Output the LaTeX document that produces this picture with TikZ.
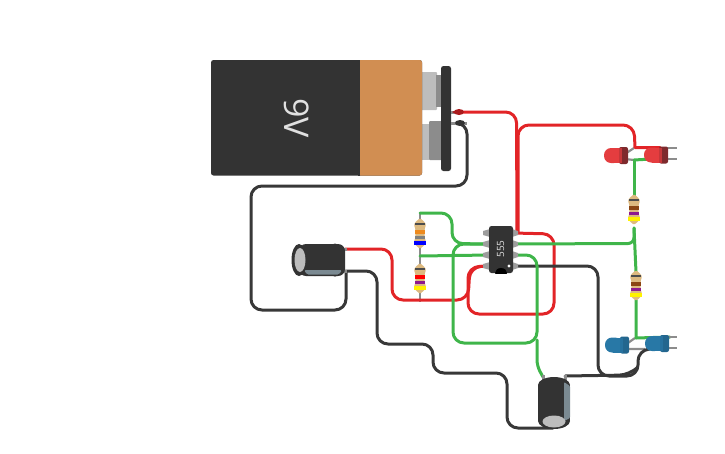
\documentclass[tikz,border=0pt]{standalone}
\usepackage{fontspec}
\setmainfont{Open Sans}
\definecolor{wred}{HTML}{E22427}
\definecolor{wgreen}{HTML}{3FB54A}
\definecolor{wblack}{HTML}{383838}
\definecolor{dark}{HTML}{333333}
\definecolor{orangeb}{HTML}{D18E52}
\definecolor{lgray}{HTML}{BDBDBD}
\definecolor{mgray}{HTML}{8C8C8C}
\definecolor{slate}{HTML}{7B8A92}
\definecolor{tan}{HTML}{DDB97F}
\definecolor{redled}{HTML}{E43D3F}
\definecolor{redrim}{HTML}{7E2A2D}
\definecolor{blueled}{HTML}{2878A6}
\definecolor{bluerim}{HTML}{23668E}
\definecolor{bandpurple}{HTML}{8E1A8E}
\definecolor{bandbrown}{HTML}{8B4513}
\definecolor{bandorange}{HTML}{EE8A1E}
\tikzset{
  x=1pt,y=-1pt,
  wire/.style={line width=3pt,rounded corners=11pt,line cap=round,line join=round},
  redw/.style={wire,draw=wred},
  greenw/.style={wire,draw=wgreen},
  blackw/.style={wire,draw=wblack},
  lead/.style={draw=mgray,line width=2.2pt},
  pin/.style={fill=mgray!85!white,draw=none},
}
\newcommand{\resistor}[6]{% x, top y, band colours
  \begin{scope}[shift={(#1,#2)}]
    \fill[tan,rounded corners=1.2pt] (0,-1) -- (5,3.5) -- (6,6) -- (4.6,10) -- (4.6,19) -- (6,22) -- (5,25.5) -- (0,30) -- (-5,25.5) -- (-6,22) -- (-4.6,19) -- (-4.6,10) -- (-6,6) -- (-5,3.5) -- cycle;
    \fill[#3] (-5,4.4) rectangle (5,5.6);
    \fill[#4] (-5,11) rectangle (5,14.5);
    \fill[#5] (-5,16.8) rectangle (5,20);
    \fill[#6] (-6,22) rectangle (6,26);
  \end{scope}
}
\newcommand{\ledbody}[4]{% left x, centre y, body colour, rim colour
  \begin{scope}[shift={(#1,#2)}]
    \fill[#3,rounded corners=7pt] (0,-7.5) -- (17,-7.5) -- (17,7.5) -- (0,7.5) -- cycle;
    \fill[#3] (8,-7.5) rectangle (17,7.5);
    \fill[#4,rounded corners=2pt] (15,-8.5) rectangle (24,8.5);
    \fill[#3!70!#4] (14.5,-7.5) rectangle (17.5,7.5);
  \end{scope}
}
\begin{document}
\begin{tikzpicture}
\useasboundingbox (0,0) rectangle (725,453);
% terminals
\coordinate (batP) at (459,112);
\coordinate (batN) at (459,123);
\coordinate (c1P) at (345,249);
\coordinate (c1N) at (345,271);
\coordinate (c2P) at (543,377);
\coordinate (c2N) at (565,376);
\coordinate (p1) at (489,233);
\coordinate (p2) at (489,244);
\coordinate (p3) at (489,255);
\coordinate (p4) at (489,266);
\coordinate (q1) at (513,233);
\coordinate (q2) at (513,244);
\coordinate (q3) at (513,255);
\coordinate (q4) at (513,266);
\coordinate (r1t) at (420,213);
\coordinate (r1b) at (420,256);
\coordinate (r2b) at (420,300);
\coordinate (r3t) at (634,160);
\coordinate (r3b) at (634,228);
\coordinate (r4t) at (636,272);
\coordinate (r4b) at (636,338);
\coordinate (ledRa) at (677,148);
\coordinate (ledRb) at (677,159);
\coordinate (ledBa) at (677,337);
\coordinate (ledBb) at (677,348);
% leads
\draw[lead] (420,212) -- (420,302);
\draw[lead] (r3t) -- (634,196) (636,298) -- (r4b);
\draw[lead] (625,154) -- (634,148) (625,159) -- (634,160);
\draw[lead] (625,345) -- (635,338) (625,349) -- (645,349);
% wires
\draw[redw] (batP) -- (516.5,112) -- (517,232);
\draw[redw] (518,232) -- (518,125) -- (634,125) [rounded corners=0pt] -- (635,147.5) -- (660,147.5);
\draw[redw] (q1) -- (554,234) -- (554,314) -- (468,314) -- (468,267) -- (p4);
\draw[redw] (p4) -- (470,267) -- (468,300) -- (392,300) -- (392,249) -- (c1P);
\draw[blackw] (batN) -- (467,123) -- (467,186) -- (251,186) -- (251,310) -- (346,310) -- (346,272);
\draw[blackw] (c1N) -- (377,271) -- (377,344) -- (433,344) -- (433,373) -- (507,373) -- (507,428) -- (553,428);
\draw[blackw] (q4) -- (598,266) -- (598,376) -- (638,376) -- (638,350) -- (650,349);
\draw[blackw] (c2N) -- (630,375) -- (637,368);
\draw[greenw] (r1t) -- (452,213) -- (452,243.5) -- (p2);
\draw[greenw,rounded corners=6pt] (q2) -- (634,243.5) -- (r3b);
\draw[greenw,rounded corners=0pt] (r3b) -- (r4t);
\draw[greenw,line cap=butt,rounded corners=0pt] (r3t) -- (634,196);
\draw[greenw,rounded corners=0pt] (r3t) -- (660,158.5);
\draw[greenw] (r1b) -- (p3);
\draw[greenw] (p2) -- (453,244) -- (453,343) -- (537,343) -- (537,255) -- (q3);
\draw[greenw,rounded corners=6pt] (537,340) -- (537,366) -- (c2P);
\draw[greenw,rounded corners=0pt] (636,300) -- (636,338) -- (670,337);
% LED and chip pins above the wires
\draw[lead] (665,148) -- (ledRa) (665,159) -- (ledRb);
\draw[lead] (668,337) -- (ledBa) (665,348) -- (ledBb);
\foreach \y in {233,244,255,266}{
  \fill[pin] (490,\y-4) -- (490,\y+4) -- (483,\y+2) -- (483,\y-2) -- cycle;
  \fill[pin] (512,\y-4) -- (512,\y+4) -- (518,\y+2) -- (518,\y-2) -- cycle;
}
% battery
\fill[lgray,rounded corners=1pt] (421,72) rectangle (437,110);
\fill[mgray] (436,75) rectangle (442,107);
\fill[lgray] (421,124) rectangle (430,160);
\fill[mgray,rounded corners=1pt] (429,121) rectangle (442,160);
\fill[dark,rounded corners=2.5pt] (211,60) rectangle (422,175.5);
\fill[orangeb,rounded corners=2.5pt] (358,60) rectangle (422,175.5);
\fill[dark] (358,60) rectangle (359.5,175.5);
\fill[dark,rounded corners=2.5pt] (441,66) rectangle (451,171);
\node[name=batlabel,rotate=-90,text=black!12,font=\fontsize{34}{34}\selectfont,inner sep=0pt] at (297,118) {9V};
% battery clips
\fill[mgray] (451,111) rectangle (462,114);
\fill[wred!75!black] (459,112) ellipse (5 and 3);
\fill[wred!75!black] (452,112) -- (456,110) -- (456,114) -- cycle;
\fill[mgray] (451,122) rectangle (467,125);
\fill[black!80] (460,123) ellipse (5 and 3);
% chip
\fill[dark,rounded corners=2.5pt] (489,226) rectangle (513,273);
\begin{scope}
  \clip (489,226) rectangle (513,273);
  \fill[black] (501,273) ellipse (6 and 5);
\end{scope}
\fill[white] (509,266) circle (1.7);
\node[name=chiplabel,rotate=90,text=black!12,font=\fontsize{10}{10}\selectfont,inner sep=0pt] at (500.5,249) {555};
% resistors
\resistor{420}{219}{black!70}{bandorange}{gray}{blue}
\resistor{420}{264}{black!70}{red}{bandpurple}{yellow}
\resistor{634}{195}{black!70}{bandbrown}{bandpurple}{yellow}
\resistor{636}{271}{black!70}{bandbrown}{bandpurple}{yellow}
% LEDs
\ledbody{604}{155.5}{redled}{redrim}
\ledbody{644}{155}{redled}{redrim}
\ledbody{605}{345}{blueled}{bluerim}
\ledbody{645}{343.5}{blueled}{bluerim}
% capacitor 1
\fill[mgray] (340,247.5) rectangle (347,250.5);
\fill[mgray] (340,270) rectangle (347,273);
\fill[dark,rounded corners=7pt] (299,244) rectangle (345,276);
\fill[dark] (299,260) ellipse (7.5 and 16);
\fill[dark] (335,260) ellipse (10 and 16.5);
\fill[slate,rounded corners=1.5pt] (304,270) -- (342,270) -- (339,274.5) -- (307,274.5) -- cycle;
\fill[lgray] (300,260) ellipse (5.5 and 12);
% capacitor 2
\fill[mgray] (542,375) rectangle (545,382);
\fill[mgray] (563.5,375) rectangle (566.5,382);
\fill[dark] (538,385) rectangle (570,421);
\fill[dark] (554,385) ellipse (16 and 8);
\fill[dark] (554,421) ellipse (16 and 8);
\fill[slate,rounded corners=1pt] (564,382) -- (570,386) -- (570,418) -- (564,421) -- cycle;
\fill[lgray] (554,421.5) ellipse (11.5 and 6);
\end{tikzpicture}
\end{document}
